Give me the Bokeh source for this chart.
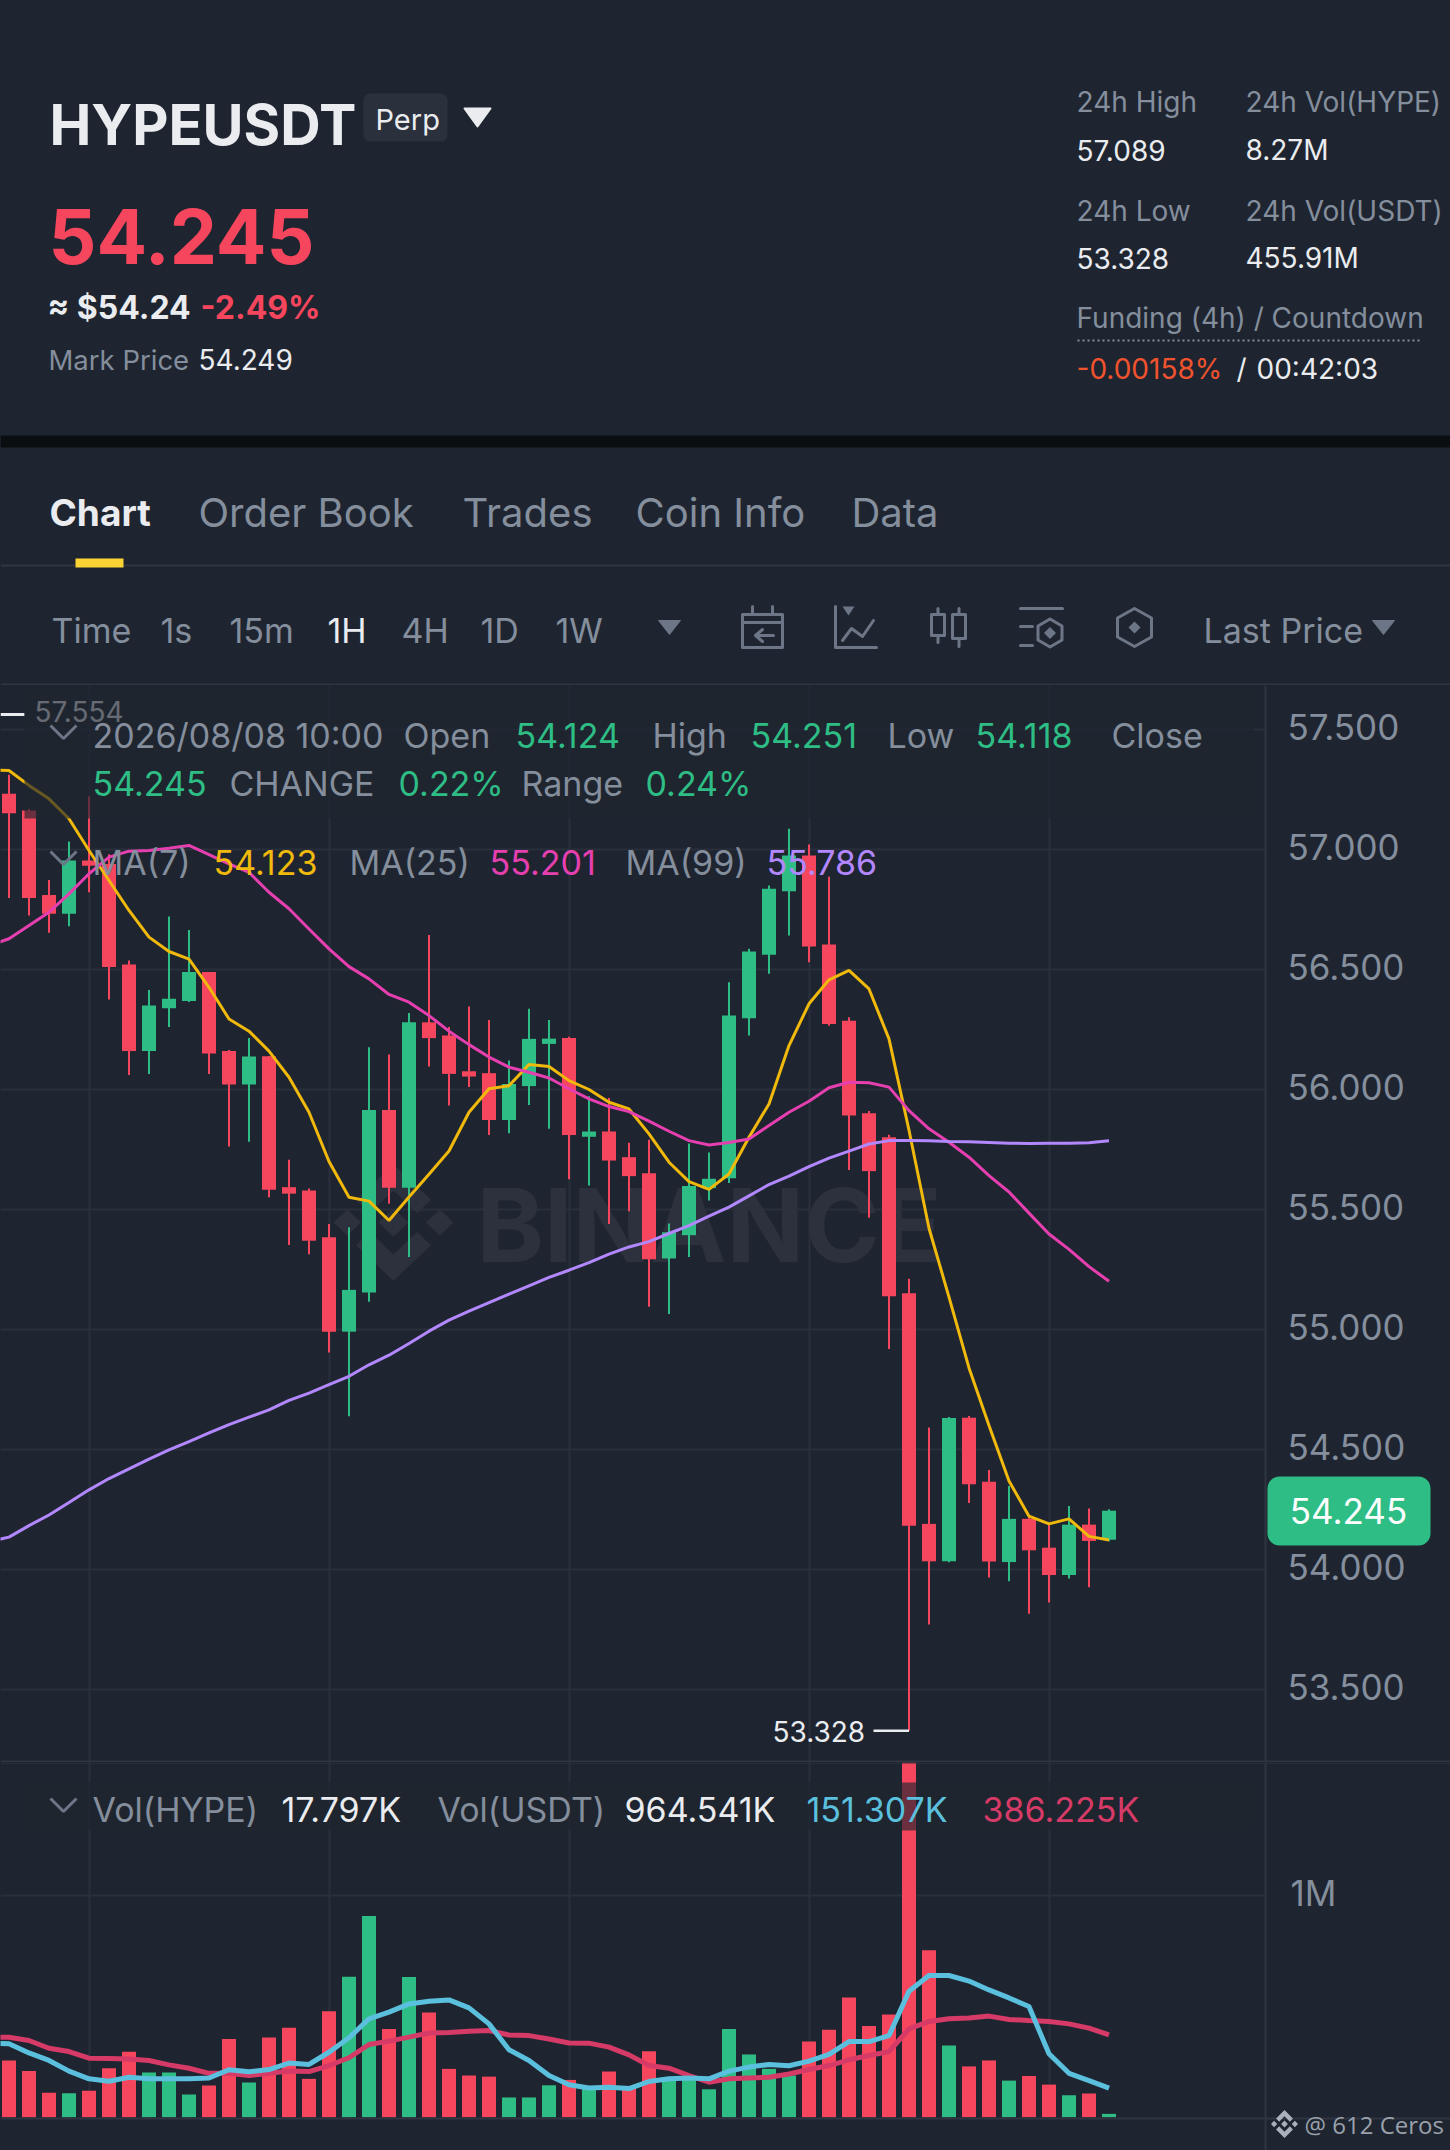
from bokeh.plotting import figure
from bokeh.layouts import column
from bokeh.models import Range1d, FixedTicker, NumeralTickFormatter, LinearAxis
from bokeh.core.properties import value
from bokeh.embed import file_html
from bokeh.resources import INLINE

# ---------------- data ----------------
opens = [57.232,57.162,56.81,56.732,56.954,56.94,56.521,56.16,56.339,56.369,56.49,56.16,56.021,56.139,55.593,55.579,55.384,54.991,55.154,55.915,55.591,56.28,56.225,56.076,56.068,55.873,56.014,56.19,56.215,55.803,55.825,55.718,55.651,55.296,55.393,55.589,55.63,56.297,56.561,56.826,56.975,56.604,56.286,55.901,55.801,55.151,54.19,54.034,54.632,54.366,54.031,54.211,54.091,53.977,54.187,54.124]
highs = [57.311,57.169,56.873,57.033,57.222,56.98,56.537,56.415,56.721,56.665,56.49,56.165,56.215,56.14,55.707,55.587,55.44,55.426,56.176,56.146,56.319,56.644,56.26,56.346,56.29,56.121,56.336,56.29,56.22,55.972,55.965,55.778,55.791,55.442,55.775,55.737,56.447,56.586,56.85,57.086,57.021,56.886,56.301,55.91,55.811,55.211,54.592,54.635,54.64,54.415,54.348,54.22,54.194,54.265,54.254,54.251]
lows = [56.798,56.725,56.653,56.68,56.822,56.375,56.06,56.065,56.26,56.365,56.065,55.762,55.782,55.551,55.352,55.314,54.904,54.639,55.116,55.524,55.302,56.096,55.933,56.01,55.81,55.818,55.935,55.836,55.626,55.6,55.44,55.493,55.095,55.065,55.302,55.538,55.61,56.225,56.482,56.642,56.53,56.266,55.665,55.466,54.919,53.328,53.771,54.03,54.277,53.967,53.951,53.816,53.862,53.962,53.926,54.118]
closes = [57.151,56.798,56.732,56.954,56.932,56.51,56.16,56.35,56.378,56.49,56.15,56.021,56.137,55.582,55.566,55.37,54.991,55.165,55.915,55.591,56.28,56.214,56.065,56.054,55.873,56.023,56.211,56.212,55.81,55.825,55.704,55.639,55.293,55.405,55.598,55.628,56.308,56.575,56.836,56.975,56.596,56.273,55.892,55.66,55.139,54.182,54.034,54.631,54.355,54.033,54.211,54.08,53.977,54.187,54.119,54.245]
ma7 = [57.332,57.329,57.267,57.211,57.128,56.996,56.871,56.746,56.635,56.575,56.543,56.426,56.294,56.243,56.16,56.051,55.905,55.70,55.551,55.535,55.454,55.552,55.647,55.744,55.905,56.003,56.016,56.104,56.096,56.037,56.0,55.947,55.919,55.815,55.697,55.616,55.584,55.648,55.801,55.94,56.183,56.357,56.457,56.496,56.419,56.211,55.83,55.422,55.135,54.84,54.60,54.369,54.222,54.19,54.211,54.138,54.123]
ma25 = [56.6,56.628,56.683,56.739,56.815,56.899,56.968,56.993,56.996,57.005,57.017,56.979,56.94,56.905,56.822,56.753,56.669,56.586,56.512,56.461,56.396,56.364,56.308,56.243,56.187,56.135,56.093,56.072,56.048,56.003,55.961,55.929,55.908,55.868,55.826,55.787,55.769,55.779,55.794,55.85,55.905,55.951,56.007,56.03,56.028,56.01,55.912,55.836,55.78,55.718,55.641,55.573,55.485,55.398,55.334,55.262,55.201]
ma99 = [54.116,54.135,54.183,54.227,54.279,54.332,54.379,54.419,54.46,54.498,54.533,54.569,54.604,54.635,54.665,54.705,54.735,54.77,54.805,54.853,54.893,54.942,54.993,55.039,55.077,55.112,55.147,55.182,55.217,55.247,55.279,55.314,55.344,55.366,55.4,55.433,55.472,55.51,55.557,55.604,55.639,55.679,55.714,55.743,55.773,55.787,55.787,55.786,55.783,55.782,55.779,55.776,55.775,55.776,55.776,55.778,55.786]
volumes = [0.256,0.208,0.110,0.108,0.119,0.221,0.295,0.202,0.202,0.102,0.143,0.353,0.156,0.359,0.403,0.173,0.478,0.633,0.908,0.398,0.632,0.472,0.218,0.188,0.183,0.089,0.089,0.144,0.168,0.135,0.206,0.135,0.298,0.18,0.173,0.126,0.398,0.283,0.218,0.188,0.341,0.395,0.54,0.411,0.463,1.612,0.753,0.323,0.229,0.256,0.165,0.186,0.147,0.099,0.107,0.015]
vol_ma5 = [0.334,0.331,0.29,0.256,0.208,0.173,0.162,0.18,0.173,0.173,0.173,0.177,0.214,0.205,0.215,0.244,0.238,0.293,0.358,0.444,0.474,0.511,0.523,0.529,0.493,0.421,0.304,0.256,0.188,0.146,0.132,0.135,0.129,0.161,0.173,0.177,0.173,0.208,0.226,0.238,0.232,0.253,0.283,0.341,0.341,0.368,0.568,0.639,0.639,0.614,0.574,0.538,0.499,0.286,0.198,0.165,0.131]
vol_ma10 = [0.361,0.361,0.346,0.311,0.296,0.266,0.265,0.263,0.256,0.236,0.221,0.198,0.198,0.188,0.198,0.208,0.206,0.233,0.268,0.328,0.343,0.361,0.38,0.382,0.388,0.391,0.371,0.368,0.353,0.335,0.334,0.316,0.281,0.233,0.221,0.188,0.158,0.173,0.177,0.18,0.195,0.215,0.233,0.259,0.278,0.296,0.398,0.432,0.444,0.447,0.456,0.441,0.436,0.432,0.421,0.402,0.371]
price_ticks = [53.5,54.0,54.5,55.0,55.5,56.0,56.5,57.0,57.5]
volume_ticks = [1.0]
time_grid_bars = [4,16,28,40,52]
tabs = ["Chart","Order Book","Trades","Coin Info","Data"]
intervals = ["Time","1s","15m","1H","4H","1D","1W"]

BG="#1e2530"; GRID="#2a303b"; BORDER="#2f3541"; GREEN="#2ebd85"; RED="#f6465d"; GREY="#848e9c"; WHITE="#eaecef"; ICON="#6d7687"; WM="#2c313d"
FONT="Inter"; W=1450; AX=1265
TOP=685; MID=1762; END=2150

PX=lambda X:(X-8.5)/20
PY=lambda Y:57-(Y-849)/240
VY=lambda Y:(2116.7-Y)/221.7
I=lambda v:v

def base(hh, xr, yr):
    return figure(width=W,height=hh,x_range=xr,y_range=yr,output_backend="svg",toolbar_location=None,
             background_fill_color=BG,border_fill_color=BG,outline_line_color=None,
             min_border=0,margin=0,x_axis_location=None,y_axis_location=None)

def T(f,fx,fy,X,Y,s,color=GREY,size=32,style="normal",font=FONT,align="left"):
    f.text(x=[fx(X)],y=[fy(Y)],text=[s],text_color=color,text_font=value(font),text_font_size=value(f"{size}px"),
           text_font_style=style,text_baseline="middle",text_align=align)

def B(f,fx,fy,l,r,t,b,color,alpha=1,radius=0):
    f.quad(left=[fx(l)],right=[fx(r)],top=[fy(t)],bottom=[fy(b)],fill_color=color,fill_alpha=alpha,line_color=None,border_radius=radius)

def axis_on(f,rng_lo,rng_hi,ticks,standoff):
    f.extra_y_ranges={"labels":Range1d(rng_lo,rng_hi)}
    a=LinearAxis(fixed_location=PX(AX),y_range_name="labels",ticker=FixedTicker(ticks=ticks))
    a.major_tick_line_color=None; a.minor_tick_line_color=None; a.major_tick_out=0; a.major_tick_in=0
    a.axis_line_color=BORDER; a.axis_line_width=2
    a.major_label_text_color=GREY; a.major_label_text_font=FONT; a.major_label_text_font_size="35px"; a.major_label_standoff=standoff
    f.add_layout(a,"right")
    return a

logo_parts=[[(-.395,-.168),(0,-.563),(.395,-.168),(.625,-.398),(0,-1.02),(-.625,-.398)],
            [(-.395,.168),(0,.563),(.395,.168),(.625,.398),(0,1.02),(-.625,.398)],
            [(-1,0),(-.77,-.23),(-.54,0),(-.77,.23)],
            [(1,0),(.77,-.23),(.54,0),(.77,.23)],
            [(-.25,0),(0,-.25),(.25,0),(0,.25)]]

# ---------------- header ----------------
h=base(TOP,Range1d(0,W),Range1d(TOP,0))
h.grid.visible=False
B(h,I,I,0,1450,435,447,"#0b0e11")
B(h,I,I,0,1450,564,566,BORDER)
B(h,I,I,0,1450,683,685,BORDER)
B(h,I,I,75,123,558,567,"#fcd535")
T(h,I,I,49,124,"HYPEUSDT",WHITE,56,"bold")
B(h,I,I,363,447,93,141,"#2a303c",1,7)
T(h,I,I,375,118.5,"Perp",WHITE,29)
h.patch([464,490,477],[108,108,126],fill_color=WHITE,line_color=WHITE,line_join="round",line_width=2)
T(h,I,I,48,236,"54.245",RED,75,"bold")
T(h,I,I,47,306.5,"≈ $54.24",WHITE,32,"bold")
T(h,I,I,200,306.5,"-2.49%",RED,32,"bold")
T(h,I,I,48,359,"Mark Price",GREY,27.5)
T(h,I,I,198,359,"54.249",WHITE,28)
for (x,y,s,c) in [(1076,101.5,"24h High",GREY),(1245,101.5,"24h Vol(HYPE)",GREY),(1076,149.5,"57.089",WHITE),(1245,149.5,"8.27M",WHITE),
                  (1076,210,"24h Low",GREY),(1245,210,"24h Vol(USDT)",GREY),(1076,257.5,"53.328",WHITE),(1245,257.5,"455.91M",WHITE),
                  (1076,317,"Funding (4h) / Countdown",GREY),(1076,368,"-0.00158%","#f0532d"),(1236,368,"/",WHITE),(1256,368,"00:42:03",WHITE)]:
    T(h,I,I,x,y,s,c,28)
h.line([1077,1421],[340,340],line_color=GREY,line_width=2,line_dash="2 3")
for x,s in zip([49,198,462,635,851],tabs):
    T(h,I,I,x,511.5,s,WHITE if s=="Chart" else GREY,37 if s=="Chart" else 40,"bold" if s=="Chart" else "normal")
for x,s in zip([51,160,229,327,401,480,555],intervals):
    T(h,I,I,x,630,s,WHITE if s=="1H" else GREY,34)
T(h,I,I,1203,630,"Last Price",GREY,34)
for xs in ([658,680,669],[1372,1394,1383]):
    h.patch(xs,[620,620,634],fill_color=ICON,line_color=ICON,line_width=1)
def L(xs,ys,w=3):
    h.line(xs,ys,line_color=ICON,line_width=w,line_cap="round",line_join="round")
L([742,782,782,742,742],[614,614,647,647,614]); L([742,782],[622,622]); L([752,752],[606,614]); L([772,772],[606,614])
L([773,756],[635,635]); L([762,755,762],[629,635,641])
L([835,835,876],[606,647,647]); L([842,851,862,873],[640,628,636,620]); h.patch([842,854,848],[606,606,615],fill_color=ICON,line_color=None)
L([931,944,944,931,931],[614,614,635,635,614]); L([937.5,937.5],[608,614]); L([937.5,937.5],[635,642])
L([952,965,965,952,952],[614,614,638,638,614]); L([958.5,958.5],[608,614]); L([958.5,958.5],[638,646])
L([1020,1062],[608,608]); L([1020,1032],[626,626]); L([1020,1032],[645,645])
def hexa(cx,cy,rx,ry):
    L([cx,cx+rx,cx+rx,cx,cx-rx,cx-rx,cx],[cy-ry,cy-ry/2,cy+ry/2,cy+ry,cy+ry/2,cy-ry/2,cy-ry])
    h.patch([cx-6,cx,cx+6,cx],[cy,cy-6,cy,cy+6],fill_color=ICON,line_color=None)
hexa(1049.5,632.5,12,14); hexa(1134,627,17,19)

# ---------------- price pane ----------------
xr=Range1d(PX(0),PX(W))
p=base(MID-TOP,xr,Range1d(PY(MID),PY(TOP)))
for g,t in ((p.xgrid,time_grid_bars),(p.ygrid,price_ticks)):
    g.ticker=FixedTicker(ticks=t); g.grid_line_color=GRID; g.grid_line_width=2
ax=axis_on(p,PY(MID)-3/240,PY(TOP)-3/240,price_ticks,22)
ax.formatter=NumeralTickFormatter(format="0.000")
B(p,PX,PY,AX+1,W,TOP,MID,BG)   # price scale column hides the grid
for part in logo_parts:
    p.patch([PX(393+60*a) for a,b in part],[PY(1222+57*b) for a,b in part],fill_color=WM,line_color=None)
T(p,PX,PY,476,1224,"BINANCE",WM,102,"bold")
n=len(opens); idx=list(range(n))
cols=[GREEN if c>=o else RED for o,c in zip(opens,closes)]
p.segment(x0=idx,y0=lows,x1=idx,y1=highs,line_color=cols,line_width=2)
p.vbar(x=idx,width=0.7,top=[max(o,c) for o,c in zip(opens,closes)],bottom=[min(o,c) for o,c in zip(opens,closes)],fill_color=cols,line_color=None)
ma_x=list(range(-1,n))
p.line(ma_x,ma7,line_color="#f0b90b",line_width=3)
p.line(ma_x,ma25,line_color="#e63fb0",line_width=3)
p.line(ma_x,ma99,line_color="#b388ff",line_width=3)
low_i=lows.index(min(lows))
p.segment(x0=[PX(873)],y0=[min(lows)],x1=[low_i],y1=[min(lows)],line_color=WHITE,line_width=2.5)
T(p,PX,PY,772,1731,"53.328",WHITE,28)
B(p,PX,PY,0,24,712.5,715.5,WHITE)
T(p,PX,PY,34,711,"57.554",WHITE,28)
B(p,PX,PY,24,1254,686,818,BG,0.65)
legend=[(92,735,"2026/08/08 10:00",GREY),(403,735,"Open",GREY),(515,735,"54.124",GREEN),(652,735,"High",GREY),(750,735,"54.251",GREEN),(887,735,"Low",GREY),(975,735,"54.118",GREEN),(1111,735,"Close",GREY),
        (92,783,"54.245",GREEN),(229,783,"CHANGE",GREY),(398,783,"0.22%",GREEN),(521,783,"Range",GREY),(645,783,"0.24%",GREEN),
        (92,861.5,"MA(7)",GREY),(213,861.5,"54.123","#f0b90b"),(349,861.5,"MA(25)",GREY),(489,861.5,"55.201","#e63fb0"),(625,861.5,"MA(99)",GREY),(766,861.5,"55.786","#b388ff")]
for x,y,s,c in legend:
    T(p,PX,PY,x,y,s,c,34)
for y in (725,851):
    p.line([PX(50),PX(63),PX(76)],[PY(y),PY(y+13),PY(y)],line_color=ICON,line_width=3)
B(p,PX,PY,1267,1430,1476,1545,GREEN,1,12)
T(p,PX,PY,1348,1510.5,f"{closes[-1]:.3f}","#ffffff",35,align="center")
B(p,PX,PY,0,W,1760,MID,BORDER)

# ---------------- volume pane ----------------
v=base(END-MID,xr,Range1d(VY(END),VY(MID)))
v.xgrid.ticker=FixedTicker(ticks=time_grid_bars); v.xgrid.grid_line_color=GRID; v.xgrid.grid_line_width=2
v.ygrid.ticker=FixedTicker(ticks=volume_ticks); v.ygrid.grid_line_color=GRID; v.ygrid.grid_line_width=2
ay=axis_on(v,VY(END)-3/221.7,VY(MID)-3/221.7,volume_ticks,25)
ay.major_label_overrides={1.0:"1M"}
B(v,PX,VY,AX+1,W,MID,END,BG)
v.vbar(x=idx,width=0.7,top=volumes,bottom=0,fill_color=cols,line_color=None)
v.line(ma_x,vol_ma10,line_color="#d63a67",line_width=5)
v.line(ma_x,vol_ma5,line_color="#5bc0de",line_width=5)
B(v,PX,VY,0,AX-1,2119,END,BG)
B(v,PX,VY,24,1254,1782,1830,BG,0.65)
v.line([PX(50),PX(63),PX(76)],[VY(1798),VY(1811),VY(1798)],line_color=ICON,line_width=3)
for x,s,c in [(92,"Vol(HYPE)",GREY),(281,"17.797K",WHITE),(437,"Vol(USDT)",GREY),(624,"964.541K",WHITE),(806,"151.307K","#5bc0de"),(982,"386.225K","#d63a67")]:
    T(v,PX,VY,x,1808.5,s,c,34)
B(v,PX,VY,0,W,2117,2119,BORDER)
B(v,PX,VY,0,W,MID,MID+1,BORDER)
for part in logo_parts:
    v.patch([PX(1284+13.5*a) for a,b in part],[VY(2123.5+13.7*b) for a,b in part],fill_color="#aab1bc",line_color=None)
T(v,PX,VY,1304,2124,"@ 612 Ceros","#9aa1ac",24,font="Open Sans")

page=column(h,p,v,spacing=0,margin=0)
html=file_html(page,INLINE)
html=html.replace("</head>","<style>html,body{background:"+BG+";}</style></head>",1)
open("out.html","w").write(html)
